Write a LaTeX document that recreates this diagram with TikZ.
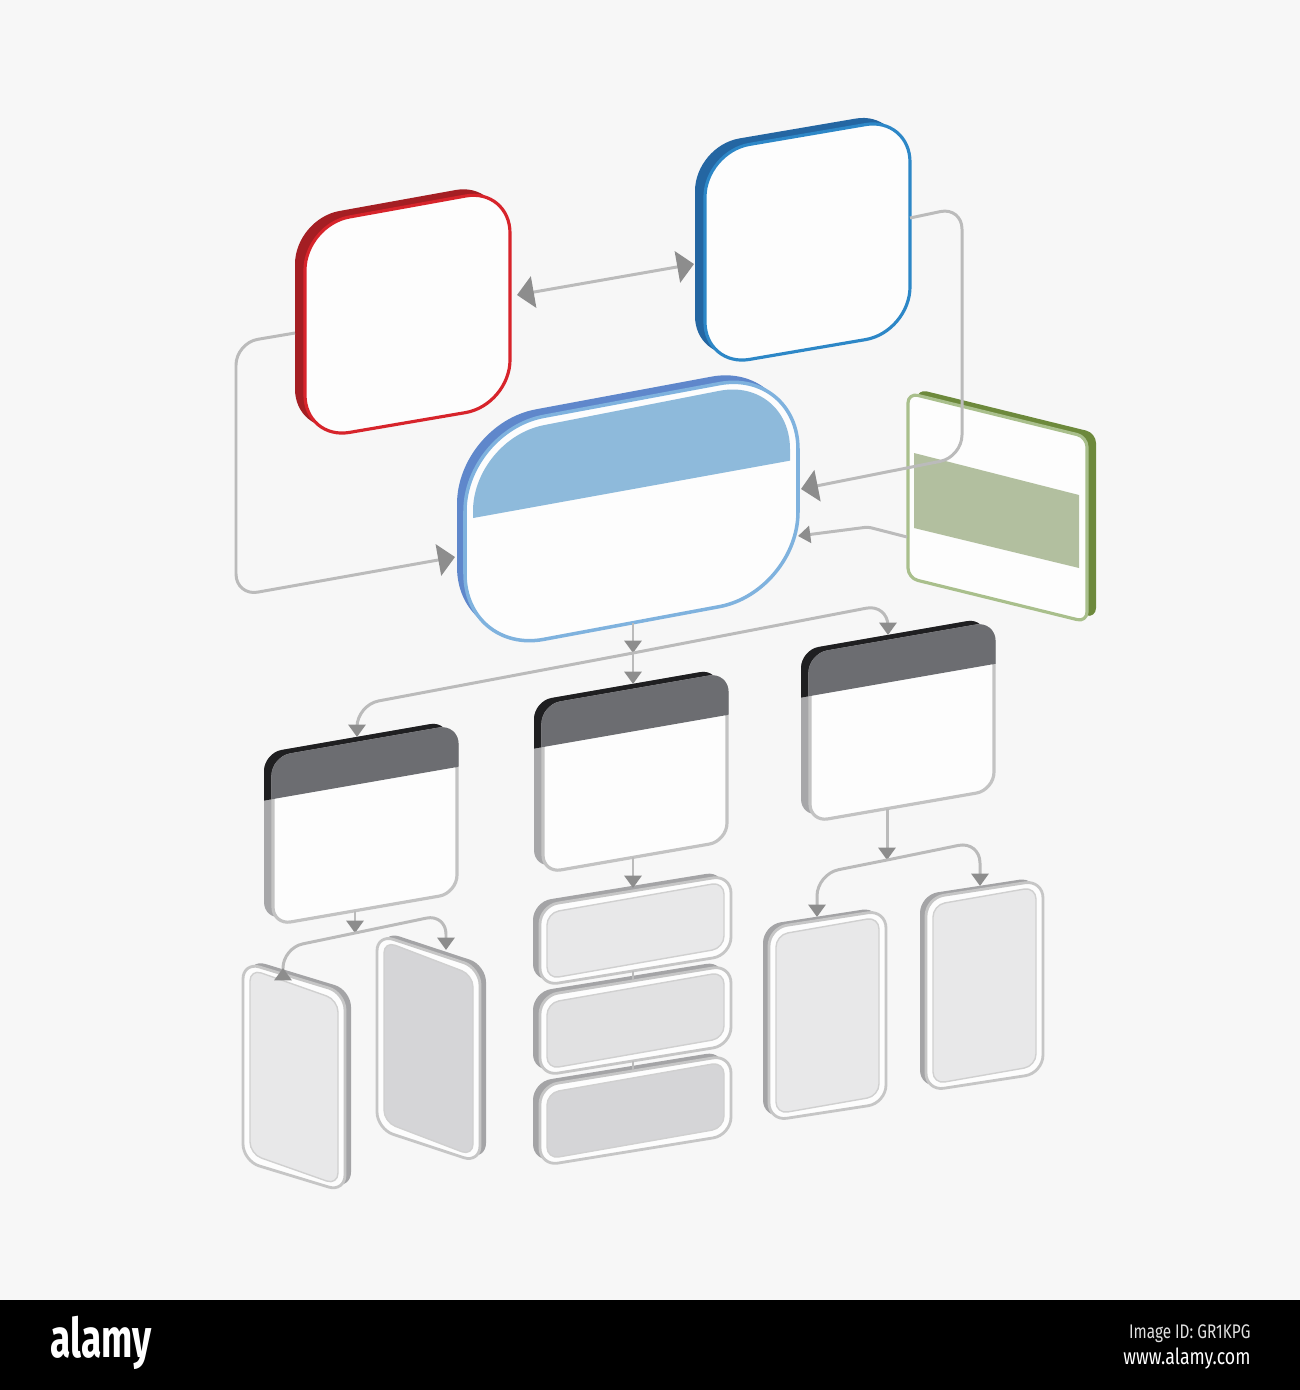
\documentclass[tikz,border=0pt]{standalone}
\usepackage{fontspec}
\usetikzlibrary{arrows.meta}
\newfontfamily\barfont{Fira Sans}
\definecolor{bg}{HTML}{F7F7F7}
\definecolor{boxw}{HTML}{FDFDFD}
\definecolor{redl}{HTML}{D7242B}
\definecolor{reds}{HTML}{A41E23}
\definecolor{bluel}{HTML}{2D87C7}
\definecolor{blues}{HTML}{2466A2}
\definecolor{cenl}{HTML}{7FB2DE}
\definecolor{cens}{HTML}{5F87CB}
\definecolor{cenband}{HTML}{8EBADB}
\definecolor{greenl}{HTML}{A9BF8C}
\definecolor{greens}{HTML}{6D893C}
\definecolor{greenband}{HTML}{B2BF9F}
\definecolor{winhead}{HTML}{6C6D71}
\definecolor{windark}{HTML}{1F1F21}
\definecolor{winside}{HTML}{A7A7A9}
\definecolor{winline}{HTML}{C3C3C3}
\definecolor{lside}{HTML}{A4A4A6}
\definecolor{lline}{HTML}{C6C6C6}
\definecolor{linner}{HTML}{D0D0D0}
\definecolor{fillA}{HTML}{E8E8E9}
\definecolor{fillB}{HTML}{E1E1E2}
\definecolor{fillC}{HTML}{D5D5D7}
\definecolor{lineg}{HTML}{BBBBBB}
\definecolor{tipg}{HTML}{8D8D8D}

\newcommand\quadpath[6]{(#1,#3) -- (#2,#4) -- (#2,#5) -- (#1,#6) -- cycle}
\newcommand\quadin[7]{(#1+#7,#3+#7) -- (#2-#7,#4+#7) -- (#2-#7,#5-#7) -- (#1+#7,#6-#7) -- cycle}

\tikzset{
  BigT/.tip={Triangle[length=4.8pt,width=9pt,color=tipg]},
  SmT/.tip={Triangle[length=3.5pt,width=4.8pt,color=tipg]},
  conn/.style={draw=lineg, line width=0.85pt, rounded corners=0.22cm},
  bigarrow/.style={conn, -BigT},
  smallarrow/.style={conn, -SmT},
}

% window box (header + body), shifted copy of a base shape
\newcommand\winbox[2]{%
\begin{scope}[shift={(#1,#2)}]
  \fill[winside, shift={(-9,-5)}, rounded corners=0.18cm] \quadpath{543}{727}{706}{674}{841}{873};
  \begin{scope}
    \clip (400,600) -- (800,600) -- (800,702.3) -- (400,771.9) -- cycle;
    \fill[windark, shift={(-9,-5)}, rounded corners=0.18cm] \quadpath{543}{727}{706}{674}{841}{873};
  \end{scope}
  \filldraw[fill=boxw, draw=winline, line width=0.9pt, rounded corners=0.18cm] \quadpath{543}{727}{706}{674}{841}{873};
  \begin{scope}
    \clip (400,600) -- (800,600) -- (800,702.3) -- (400,771.9) -- cycle;
    \filldraw[fill=winhead, draw=winhead, line width=0.9pt, rounded corners=0.18cm] \quadpath{543}{727}{706}{674}{841}{873};
  \end{scope}
\end{scope}}

% flat stacked box
\newcommand\stackbox[2]{%
\begin{scope}[shift={(0,#1)}]
  \fill[lside, shift={(-7,-4)}, rounded corners=0.18cm] \quadpath{540}{731}{906}{875}{955}{986};
  \filldraw[fill=boxw, draw=lline, line width=0.8pt, rounded corners=0.18cm] \quadpath{540}{731}{906}{875}{955}{986};
  \filldraw[fill=#2, draw=linner, line width=0.4pt, rounded corners=0.12cm] \quadin{540}{731}{906}{875}{955}{986}{7};
\end{scope}}

% tall box, right group
\newcommand\tallbox[3]{%
\begin{scope}[shift={(#1,#2)}]
  \fill[lside, shift={(-6,-3)}, rounded corners=0.18cm] \quadpath{769}{886}{928}{910}{1103}{1121};
  \filldraw[fill=boxw, draw=lline, line width=0.8pt, rounded corners=0.18cm] \quadpath{769}{886}{928}{910}{1103}{1121};
  \filldraw[fill=#3, draw=linner, line width=0.4pt, rounded corners=0.12cm] \quadin{769}{886}{928}{910}{1103}{1121}{7};
\end{scope}}

\begin{document}
\begin{tikzpicture}[x=0.01cm, y=-0.01cm, line join=round]
\useasboundingbox (0,0) rectangle (1300,1390);
\fill[bg] (0,0) rectangle (1300,1300);
\fill[black] (0,1300) rectangle (1300,1390);

% ---- red box
\fill[reds, shift={(-10,-6)}, rounded corners=0.45cm] \quadpath{305}{510}{225}{188}{405}{440};
\filldraw[fill=boxw, draw=redl, line width=0.9pt, rounded corners=0.45cm] \quadpath{305}{510}{225}{188}{405}{440};

% ---- blue box
\fill[blues, shift={(-10,-6)}, rounded corners=0.45cm] \quadpath{705}{910}{152}{117}{332}{367};
\filldraw[fill=boxw, draw=bluel, line width=0.9pt, rounded corners=0.45cm] \quadpath{705}{910}{152}{117}{332}{367};

% ---- center box
\fill[cens, shift={(-8,-7)}, rounded corners=0.8cm] \quadpath{465}{798}{431}{369}{592}{654};
\filldraw[fill=boxw, draw=cenl, line width=1pt, rounded corners=0.8cm] \quadpath{465}{798}{431}{369}{592}{654};
\begin{scope}
  \clip (440,300) -- (830,300) -- (830,453.4) -- (440,524) -- cycle;
  \fill[cenband, rounded corners=0.72cm] \quadin{465}{798}{431}{369}{592}{654}{8};
\end{scope}

% ---- green panel
\fill[greens, shift={(9,-4)}, rounded corners=0.1cm] \quadpath{908}{1087}{393}{437}{622}{578};
\filldraw[fill=boxw, draw=greenl, line width=0.9pt, rounded corners=0.1cm] \quadpath{908}{1087}{393}{437}{622}{578};
\fill[greenband] \quadpath{914}{1079}{453}{495}{568}{528};

% ---- windows
\winbox{-270}{52}
\winbox{0}{0}
\winbox{267}{-51}

% ---- bottom left tall boxes
\fill[lside, shift={(6,-3)}, rounded corners=0.17cm] \quadpath{243}{345}{962}{993}{1192}{1161};
\filldraw[fill=boxw, draw=lline, line width=0.8pt, rounded corners=0.17cm] \quadpath{243}{345}{962}{993}{1192}{1161};
\filldraw[fill=fillA, draw=linner, line width=0.4pt, rounded corners=0.12cm] \quadin{243}{345}{962}{993}{1192}{1161}{7};

\fill[lside, shift={(6,-3)}, rounded corners=0.17cm] \quadpath{377}{480}{934}{968}{1163}{1129};
\filldraw[fill=boxw, draw=lline, line width=0.8pt, rounded corners=0.17cm] \quadpath{377}{480}{934}{968}{1163}{1129};
\filldraw[fill=fillC, draw=linner, line width=0.4pt, rounded corners=0.12cm] \quadin{377}{480}{934}{968}{1163}{1129}{7};

% ---- middle stacked boxes
\stackbox{0}{fillA}
\stackbox{90}{fillB}
\stackbox{180}{fillC}

% ---- right tall boxes
\tallbox{0}{0}{fillA}
\tallbox{157}{-30}{fillA}

% ---- connector end points
\coordinate (Rr) at (517,295);
\coordinate (Bl) at (694,264);
\coordinate (Rl) at (295,333);
\coordinate (Ll1) at (236,343);
\coordinate (Ll2) at (236,596);
\coordinate (Cl) at (455,557);
\coordinate (Br) at (910,218);
\coordinate (Rc1) at (962,207);
\coordinate (Rc2) at (962,457);
\coordinate (Cr1) at (801,489);
\coordinate (Gl) at (907,537);
\coordinate (Gk) at (868,527);
\coordinate (Cr2) at (798,536);
\coordinate (Cb) at (633,623);
\coordinate (J1) at (633,653);
\coordinate (W2t) at (633,684);
\coordinate (K1) at (357,705);
\coordinate (W1t) at (357,737);
\coordinate (K2) at (888,604);
\coordinate (W3t) at (888,635);
\coordinate (W1b) at (355,911);
\coordinate (J2) at (355,933);
\coordinate (K3) at (283,948);
\coordinate (B1t) at (283,968);
\coordinate (K4) at (446,914);
\coordinate (B2t) at (446,950);
\coordinate (W2b) at (633,857);
\coordinate (M1t) at (633,888);
\coordinate (M1b) at (633,971);
\coordinate (M2t) at (633,980);
\coordinate (M2b) at (633,1061);
\coordinate (M3t) at (633,1070);
\coordinate (W3b) at (887,809);
\coordinate (J3) at (887,860);
\coordinate (K5) at (817,874);
\coordinate (R1t) at (817,917);
\coordinate (K6) at (980,841);
\coordinate (R2t) at (980,886);

% ---- connectors
\draw[conn, BigT-BigT] (Rr) -- (Bl);
\draw[bigarrow] (Rl) -- (Ll1) -- (Ll2) -- (Cl);
\draw[bigarrow] (Br) -- (Rc1) -- (Rc2) -- (Cr1);
\draw[smallarrow, rounded corners=0.03cm] (Gl) -- (Gk) -- (Cr2);

\draw[smallarrow] (Cb) -- (J1);
\draw[smallarrow] (J1) -- (W2t);
\draw[smallarrow] (J1) -- (K1) -- (W1t);
\draw[smallarrow] (J1) -- (K2) -- (W3t);

\draw[smallarrow] (W1b) -- (J2);
\draw[smallarrow, rounded corners=0.2cm] (J2) -- (K3) -- (B1t);
\draw[smallarrow, rounded corners=0.2cm] (J2) -- (K4) -- (B2t);

\draw[smallarrow] (W2b) -- (M1t);
\draw[conn] (M1b) -- (M2t);
\draw[conn] (M2b) -- (M3t);

\draw[smallarrow] (W3b) -- (J3);
\draw[smallarrow] (J3) -- (K5) -- (R1t);
\draw[smallarrow] (J3) -- (K6) -- (R2t);

% ---- bottom bar texts
\node[font=\barfont\bfseries\fontsize{15.5}{16}\selectfont, text=white, xscale=0.68, anchor=base west, inner sep=0] (logo) at (50,1357) {alamy};
\node[font=\barfont\fontsize{5.6}{6}\selectfont, text=white!88!black, xscale=0.78, anchor=base east, inner sep=0] (imgid) at (1251,1338) {Image ID: GR1KPG};
\node[font=\barfont\fontsize{6.3}{7}\selectfont, text=white, xscale=0.8, anchor=base east, inner sep=0] (url) at (1251,1364) {www.alamy.com};
\end{tikzpicture}
\end{document}
